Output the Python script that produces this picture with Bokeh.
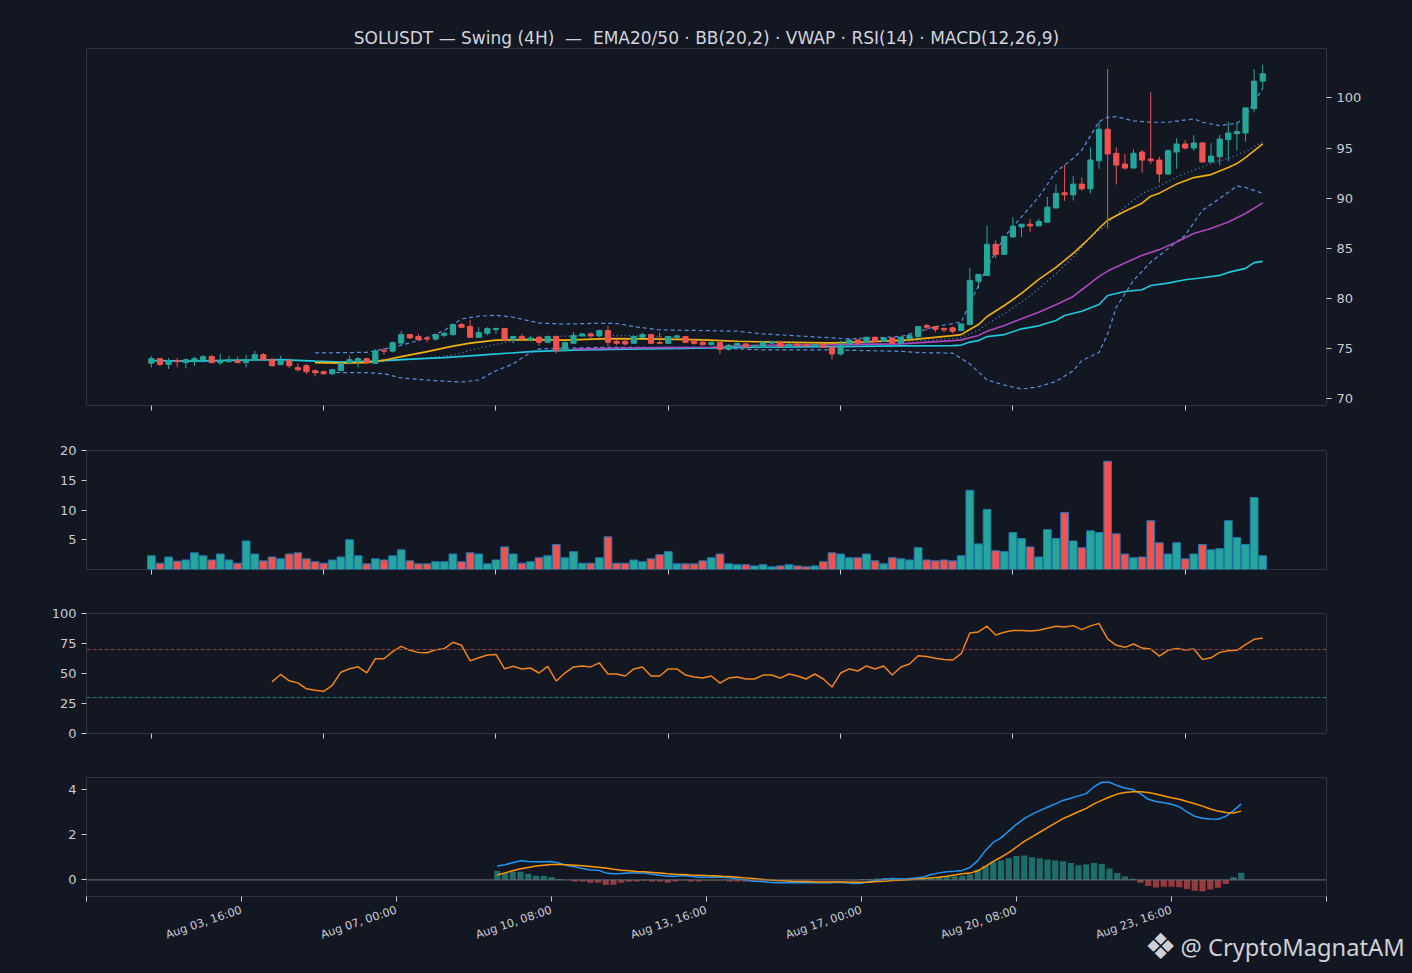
from bokeh.plotting import figure
from bokeh.models import Range1d, FixedTicker, Span, Title, ColumnDataSource
from bokeh.layouts import column
from bokeh.embed import file_html
from bokeh.resources import INLINE

# ---------------- data ----------------
idx = list(range(130))

opens = [73.55,74.0,73.43,73.8,73.6,73.7,73.9,74.2,73.6,73.7,
73.8,73.6,73.9,74.4,73.9,73.4,73.8,73.1,73.3,72.8,
72.7,72.5,72.8,73.6,73.7,74.0,73.53,74.83,74.75,75.55,
76.4,76.2,76.05,75.95,76.33,76.4,77.4,77.2,76.13,76.53,
76.9,77.0,75.87,76.2,75.9,76.13,75.63,76.2,74.8,75.53,
76.27,76.47,76.27,76.8,75.73,75.73,75.53,76.13,76.4,75.6,
75.53,76.13,76.2,75.73,75.63,75.4,75.6,74.93,75.33,75.47,
75.15,75.13,75.55,75.63,75.2,75.45,75.35,75.25,75.4,75.13,
74.47,75.47,75.87,75.6,76.13,75.73,76.07,75.53,76.0,76.2,
77.3,77.2,77.0,77.07,76.8,77.4,81.73,82.3,85.4,84.4,
86.13,87.13,87.4,87.23,87.6,89.03,90.53,90.33,91.4,90.93,
93.73,96.87,94.47,93.4,93.0,94.6,93.9,93.8,92.4,94.6,
95.4,95.0,95.5,93.6,94.13,95.83,96.43,96.5,98.93,101.67]

highs = [74.27,74.0,74.07,74.07,74.0,74.2,74.37,74.4,74.47,74.27,
74.2,74.37,74.77,74.57,74.1,74.3,74.0,73.53,73.47,72.93,
72.8,72.93,73.53,74.3,74.17,74.1,74.93,75.1,75.7,76.77,
76.47,76.47,76.13,76.47,76.7,77.5,77.57,77.87,77.13,77.13,
77.13,77.07,76.3,76.47,76.3,76.3,76.3,76.3,75.7,76.67,
76.57,76.6,76.87,77.27,76.0,75.93,76.27,76.6,76.47,76.6,
76.2,76.4,76.27,76.0,75.93,75.7,75.67,75.47,75.6,75.55,
75.4,75.7,75.75,75.7,75.5,75.55,75.45,75.5,75.5,75.3,
75.8,75.9,75.95,76.2,76.2,76.15,76.1,76.2,76.4,77.27,
77.47,77.2,77.13,77.2,77.53,83.07,82.4,87.27,85.8,86.2,
88.13,87.4,87.93,87.93,90.13,91.33,93.33,92.2,92.07,95.07,
97.63,102.87,95.07,94.4,94.87,94.8,100.57,94.13,94.87,96.0,
95.8,96.27,95.6,95.47,96.3,97.6,97.6,99.0,102.87,103.3]

lows = [73.13,73.27,72.97,73.13,73.03,73.27,73.6,73.6,73.37,73.6,
73.6,73.13,73.8,73.8,73.23,73.4,73.07,72.73,72.47,72.23,
72.37,72.37,72.8,73.47,73.13,73.5,73.47,74.4,74.63,75.33,
75.97,75.8,75.63,75.8,76.13,76.27,77.07,76.13,76.07,76.33,
76.47,75.87,75.53,75.87,75.73,75.3,75.6,74.53,74.7,75.47,
76.2,76.07,76.13,75.27,75.33,75.3,75.47,76.07,75.47,75.47,
75.47,76.07,75.53,75.4,75.3,75.3,74.47,74.8,75.25,75.05,
75.05,75.07,75.45,75.1,75.15,75.2,75.15,75.2,75.05,73.93,
74.3,75.4,75.45,75.55,75.65,75.7,75.45,75.5,75.95,75.97,
76.8,76.63,76.63,76.53,76.8,77.4,81.0,82.3,84.0,84.4,
86.13,86.13,86.63,87.23,87.57,88.93,89.73,89.77,90.73,90.47,
92.93,86.97,91.37,92.87,93.0,92.53,93.4,91.53,92.3,92.93,
94.87,94.73,93.6,93.6,93.27,93.67,94.73,95.63,98.57,100.87]

closes = [74.0,73.43,73.8,73.7,73.9,74.0,74.2,73.6,73.8,73.9,
73.6,73.9,74.4,73.9,73.3,73.8,73.3,72.9,72.7,72.6,
72.5,72.9,73.53,73.9,74.0,73.6,74.77,74.75,75.6,76.4,
76.07,75.9,75.95,76.4,76.53,77.4,77.13,76.13,76.6,77.0,
77.0,75.87,76.2,75.97,76.05,75.63,76.2,74.8,75.6,76.33,
76.47,76.27,76.8,75.63,75.53,75.47,76.2,76.4,75.53,75.53,
76.2,76.27,75.63,75.53,75.4,75.6,74.93,75.33,75.5,75.13,
75.3,75.63,75.65,75.2,75.4,75.3,75.25,75.4,75.13,74.47,
75.3,75.87,75.53,76.13,75.73,76.07,75.53,76.13,76.33,77.2,
77.13,76.93,76.87,76.73,77.47,81.8,82.4,85.4,84.4,86.2,
87.2,87.4,87.23,87.67,89.1,90.47,90.33,91.4,90.93,93.8,
96.87,94.4,93.3,93.0,94.47,93.8,93.73,92.4,94.73,95.4,
95.0,95.5,93.6,94.2,95.9,96.5,96.63,99.0,101.67,102.4]

volumes = [2.3,1.06,2.1,1.4,1.6,2.8,2.3,1.6,2.6,1.6,
1.06,4.8,2.6,1.45,2.1,1.8,2.6,2.8,1.8,1.3,
1.06,1.6,2.1,5.0,2.3,0.95,1.8,1.6,2.3,3.3,
1.45,0.95,0.95,1.3,1.3,2.6,1.3,2.8,2.6,0.95,
1.6,3.8,2.6,1.06,1.3,1.97,2.3,4.2,1.97,3.0,
1.06,1.06,1.97,5.5,1.06,1.06,1.6,1.3,1.8,2.5,
3.0,0.95,0.95,0.95,1.45,1.97,2.6,0.95,0.8,0.8,
0.6,0.8,0.45,0.6,0.8,0.6,0.45,0.6,1.3,2.8,
2.6,1.97,1.97,2.6,1.45,0.95,1.97,1.8,1.6,3.66,
1.6,1.45,1.6,1.45,2.3,13.3,4.3,10.1,3.15,3.0,
6.2,5.2,3.8,2.1,6.7,5.2,9.6,4.8,3.66,6.5,
6.2,18.2,6.0,2.6,1.97,2.1,8.2,4.5,2.6,4.5,
1.8,2.6,4.2,3.3,3.5,8.2,5.35,4.2,12.1,2.3]

vwap_x = [0,5,10,15,19,22,26,29,34,39,44,49,55,60,65,71,79,87,93,94,
          95,96,97,99,101,103,105,106,108,110,111,113,115,116,118,120,122,124,125,127,128,129]
vwap_y = [73.8,73.75,73.85,73.9,73.75,73.65,73.75,73.9,74.1,74.4,74.7,74.85,74.95,75.0,75.07,75.13,75.2,75.27,75.3,75.35,
          75.65,75.8,76.2,76.4,76.97,77.27,77.8,78.3,78.73,79.4,80.3,80.7,80.87,81.3,81.53,81.87,82.07,82.3,82.6,83.0,83.57,83.7]

ema20_x = [19,22,25,27,29,32,35,37,40,44,48,53,58,64,68,72,76,79,83,88,
           93,94,95,96,97,99,101,103,105,107,108,109,110,111,113,115,116,117,119,121,123,125,126,127,129]
ema20_y = [73.6,73.55,73.6,73.85,74.2,74.7,75.25,75.55,75.85,75.9,75.85,76.0,75.97,75.87,75.73,75.65,75.6,75.57,75.67,75.87,
           76.3,76.4,76.9,77.4,78.2,79.3,80.5,81.9,83.1,84.5,85.3,86.1,87.0,87.8,88.7,89.5,90.2,90.5,91.4,92.05,92.35,93.05,93.45,94.05,95.4]

ema50_x = [49,55,60,65,68,71,79,87,93,94,96,97,99,101,103,105,107,108,109,110,
           111,113,115,117,119,121,123,125,127,129]
ema50_y = [74.95,75.05,75.1,75.13,75.27,75.33,75.4,75.47,75.8,75.87,76.3,76.73,77.3,77.97,78.63,79.37,80.2,80.87,81.53,82.2,
           82.73,83.53,84.3,84.87,85.63,86.47,86.97,87.63,88.47,89.53]

bbu_x = [19,25,26,28,31,34,36,38,40,42,45,48,52,54,56,59,64,68,71,75,
         79,81,87,91,93,94,95,97,99,101,103,105,107,108,110,111,112,114,116,118,121,122,124,126,127,129]
bbu_y = [74.57,74.63,74.8,75.13,75.8,76.8,77.97,78.23,78.33,78.13,77.55,77.45,77.53,77.5,77.2,76.87,76.8,76.73,76.47,76.27,
         76.07,75.97,76.2,77.2,77.5,77.65,79.47,83.13,86.13,88.13,90.13,92.63,93.97,94.8,97.63,98.07,98.13,97.7,97.57,97.57,
         97.9,97.57,97.23,97.47,98.13,100.97]

bbm_x = [19,27,31,35,38,42,46,50,52,58,64,68,72,75,79,83,87,91,93,94,
         96,97,99,101,103,105,107,109,111,113,115,117,119,121,123,125,127,129]
bbm_y = [73.57,73.75,74.0,74.35,75.05,75.8,76.2,76.27,76.33,76.27,75.8,75.73,75.73,75.67,75.53,75.67,75.73,75.87,76.03,76.13,
         76.8,77.47,78.47,79.63,80.97,82.47,84.13,86.13,87.47,89.13,90.47,91.2,92.13,92.8,93.47,93.97,94.63,95.63]

bbl_x = [19,25,27,29,33,36,38,40,42,44,45,52,64,68,71,79,87,89,93,95,
         97,99,101,103,105,107,108,110,111,112,114,116,118,120,122,124,126,127,129]
bbl_y = [72.63,72.6,72.5,72.07,71.8,71.67,71.87,72.8,73.47,74.63,74.97,75.13,75.13,74.97,74.87,74.87,74.73,74.6,74.55,73.47,
         71.87,71.37,70.97,71.2,71.73,72.8,73.8,74.63,76.47,79.13,81.8,83.63,84.97,86.3,88.8,89.97,91.2,91.07,90.47]

rsi_idx = list(range(14, 130))
rsi_vals = [43.0,49.2,43.9,42.2,37.2,36.0,35.2,40.2,51.1,53.9,
55.6,50.6,62.3,62.3,68.2,72.6,69.3,67.6,67.3,69.8,
70.7,76.0,73.5,60.6,63.1,65.4,65.9,53.9,56.0,53.8,
54.6,50.4,56.0,43.7,50.4,55.5,56.3,55.5,58.8,49.6,
49.6,47.9,53.8,55.5,47.9,47.9,53.8,53.8,48.7,47.0,
46.2,47.9,42.0,46.2,47.0,45.4,45.4,48.7,48.7,46.2,
49.6,47.9,45.4,49.6,45.4,38.7,50.4,53.8,52.1,56.3,
53.8,56.3,48.7,55.4,57.9,64.8,64.2,62.8,61.7,61.2,
66.5,83.8,84.6,89.4,82.1,84.4,85.8,85.8,85.5,86.0,
87.7,89.4,88.8,89.9,86.6,89.7,91.6,78.8,73.5,71.8,
74.6,71.2,70.4,64.5,69.3,70.9,69.6,70.4,61.7,63.1,
67.6,69.0,69.3,74.0,78.5,79.6]

macd_idx = list(range(33, 130))
macd_vals = [0.61,0.67,0.76,0.84,0.81,0.8,0.8,0.81,0.73,0.64,
0.58,0.5,0.44,0.43,0.31,0.27,0.28,0.3,0.31,0.3,
0.25,0.21,0.16,0.16,0.19,0.16,0.12,0.12,0.13,0.12,
0.09,0.04,0.01,-0.06,-0.07,-0.1,-0.12,-0.13,-0.13,-0.13,
-0.13,-0.12,-0.12,-0.12,-0.1,-0.12,-0.16,-0.15,-0.07,-0.01,
0.03,0.06,0.04,0.05,0.09,0.13,0.24,0.31,0.36,0.38,
0.42,0.55,0.85,1.3,1.65,1.85,2.15,2.45,2.7,2.9,
3.05,3.2,3.35,3.5,3.6,3.7,3.8,4.1,4.3,4.3,
4.15,4.05,3.98,3.8,3.55,3.45,3.4,3.33,3.22,3.0,
2.8,2.72,2.68,2.67,2.8,3.05,3.35]
signal_vals = [0.22,0.31,0.4,0.49,0.55,0.61,0.65,0.68,0.68,0.67,
0.65,0.62,0.59,0.56,0.52,0.47,0.43,0.4,0.37,0.36,
0.33,0.3,0.27,0.25,0.24,0.22,0.21,0.19,0.18,0.16,
0.15,0.12,0.09,0.06,0.03,0.0,-0.03,-0.04,-0.06,-0.07,
-0.07,-0.09,-0.09,-0.09,-0.09,-0.09,-0.1,-0.1,-0.1,-0.07,
-0.06,-0.03,-0.01,0.01,0.03,0.06,0.09,0.12,0.16,0.22,
0.27,0.3,0.4,0.6,0.82,1.0,1.2,1.45,1.7,1.9,
2.1,2.3,2.5,2.7,2.85,3.0,3.15,3.35,3.5,3.65,
3.78,3.85,3.88,3.88,3.85,3.78,3.7,3.62,3.55,3.45,
3.35,3.25,3.12,3.03,2.97,2.95,3.03]
hist_vals = [0.4,0.31,0.36,0.36,0.27,0.18,0.18,0.13,0.04,0.0,
-0.07,-0.07,-0.13,-0.12,-0.21,-0.21,-0.12,-0.07,-0.07,-0.04,
-0.07,-0.07,-0.12,-0.07,-0.03,-0.07,-0.07,-0.03,-0.03,-0.03,
-0.07,-0.07,-0.07,-0.06,-0.04,-0.03,-0.02,-0.02,-0.02,-0.02,
-0.02,-0.01,-0.01,-0.01,-0.01,-0.01,-0.04,0.04,0.04,0.06,
0.08,0.07,0.07,0.06,0.06,0.07,0.12,0.14,0.16,0.16,
0.18,0.25,0.45,0.62,0.8,0.85,0.95,1.05,1.07,1.0,
0.95,0.9,0.85,0.82,0.75,0.65,0.68,0.75,0.7,0.5,
0.3,0.15,0.05,-0.12,-0.27,-0.33,-0.3,-0.3,-0.32,-0.4,
-0.48,-0.5,-0.42,-0.35,-0.18,0.12,0.32]

date_ticks = [-20, 0, 20, 40, 60, 80, 100, 120, 140]
date_labels = ["", "Aug 03, 16:00", "Aug 07, 00:00", "Aug 10, 08:00", "Aug 13, 16:00",
               "Aug 17, 00:00", "Aug 20, 08:00", "Aug 23, 16:00", ""]

TITLE = "SOLUSDT \u2014 Swing (4H) \u00a0\u2014\u00a0 EMA20/50 \u00b7 BB(20,2) \u00b7 VWAP \u00b7 RSI(14) \u00b7 MACD(12,26,9)"
WATERMARK = "@ CryptoMagnatAM"
LOGO = "\u2756"

# ---------------- styling ----------------
BG = "#131722"
BORDER = "#30343f"
TXT = "#c9ccd3"
UP = "#26a69a"
DN = "#ef5350"
W = 1412
FONT = "DejaVu Sans"

colors = [UP if c >= o else DN for o, c in zip(opens, closes)]
body_top = [max(o, c) for o, c in zip(opens, closes)]
body_bot = [min(o, c) for o, c in zip(opens, closes)]
src = ColumnDataSource(dict(x=idx, o=opens, h=highs, l=lows, c=closes, v=volumes,
                            col=colors, bt=body_top, bb=body_bot))

top_x = Range1d(-7.53, 136.4)
idx_ticks = [0, 20, 40, 60, 80, 100, 120]


def make_fig(h, xr, yr, top, bottom, yside):
    p = figure(width=W, height=h, x_range=xr, y_range=yr, output_backend="svg",
               toolbar_location=None, tools="", y_axis_location=yside,
               min_border_left=86, min_border_right=86,
               min_border_top=top, min_border_bottom=bottom,
               background_fill_color=BG, border_fill_color=BG,
               outline_line_color=BORDER, outline_line_width=1)
    p.grid.visible = False
    for ax in p.axis:
        ax.axis_line_color = None
        ax.major_tick_line_color = TXT
        ax.major_tick_in = 0
        ax.major_tick_out = 5
        ax.minor_tick_line_color = None
        ax.major_label_text_color = TXT
        ax.major_label_text_font = FONT
        ax.major_label_text_font_size = "13px"
    return p


def hide_x_labels(p):
    p.xaxis.ticker = FixedTicker(ticks=idx_ticks)
    p.xaxis.major_label_overrides = {t: "" for t in idx_ticks}
    p.xaxis.major_label_text_font_size = "1px"


# ---- price panel ----
p1 = make_fig(428, top_x, Range1d(69.33, 104.92), 48, 23, "right")
hide_x_labels(p1)
p1.yaxis.ticker = FixedTicker(ticks=[70, 75, 80, 85, 90, 95, 100])
p1.title.text = TITLE
p1.title.align = "center"
p1.title.text_color = "#d1d4dc"
p1.title.text_font = FONT
p1.title.text_font_size = "17px"
p1.title.text_font_style = "normal"
p1.title.standoff = 1

BB_COL = "#5a8fdc"
p1.line(bbu_x, bbu_y, line_color=BB_COL, line_width=1.2, line_dash="4 3")
p1.line(bbl_x, bbl_y, line_color=BB_COL, line_width=1.2, line_dash="4 3")
p1.line(bbm_x, bbm_y, line_color=BB_COL, line_width=1.3, line_dash="1 3", line_alpha=0.95)
p1.line(vwap_x, vwap_y, line_color="#22c7e0", line_width=1.6)
p1.line(ema50_x, ema50_y, line_color="#ab47bc", line_width=1.6)
p1.line(ema20_x, ema20_y, line_color="#f0b00f", line_width=1.6)
p1.segment(x0="x", y0="l", x1="x", y1="h", color="col", line_width=1, source=src)
p1.vbar(x="x", width=0.6, top="bt", bottom="bb", fill_color="col", line_color="col",
        line_width=1, source=src)

# ---- volume panel ----
p2 = make_fig(163, top_x, Range1d(0, 20), 22, 22, "left")
hide_x_labels(p2)
p2.yaxis.ticker = FixedTicker(ticks=[5, 10, 15, 20])
p2.vbar(x="x", width=0.9, top="v", bottom=0, fill_color="col", line_color="#1f77b4",
        line_width=1, source=src)

# ---- RSI panel ----
p3 = make_fig(164, top_x, Range1d(0, 100), 22, 22, "left")
hide_x_labels(p3)
p3.yaxis.ticker = FixedTicker(ticks=[0, 25, 50, 75, 100])
p3.add_layout(Span(location=70, dimension="width", line_color="#8a4246",
                   line_width=1, line_dash="4 2"))
p3.add_layout(Span(location=30, dimension="width", line_color="#1f7f79",
                   line_width=1, line_dash="4 2"))
p3.line(rsi_idx, rsi_vals, line_color="#f0841f", line_width=1.5)

# ---- MACD panel ----
p4 = make_fig(217, Range1d(-20, 140), Range1d(-0.73, 4.51), 22, 76, "left")
p4.yaxis.ticker = FixedTicker(ticks=[0, 2, 4])
p4.xaxis.ticker = FixedTicker(ticks=date_ticks)
p4.xaxis.major_label_overrides = {t: l for t, l in zip(date_ticks, date_labels)}
p4.xaxis.major_label_orientation = 0.33
p4.xaxis.major_label_text_font_size = "11.3px"
p4.xaxis.major_label_standoff = 8
p4.add_layout(Span(location=0, dimension="width", line_color="#6b6e78", line_width=1))
hist_cols = [UP if v >= 0 else DN for v in hist_vals]
p4.vbar(x=macd_idx, width=0.8, top=hist_vals, bottom=0, fill_color=hist_cols,
        fill_alpha=0.6, line_color=None)
p4.line(macd_idx, macd_vals, line_color="#2196f3", line_width=1.5)
p4.line(macd_idx, signal_vals, line_color="#ff9800", line_width=1.5)

wm = Title(text=WATERMARK, align="left", offset=1094, standoff=-40, vertical_align="top",
           text_font="Noto Sans", text_font_size="23.7px", text_font_style="normal",
           text_color="#cfd1d6")
p4.add_layout(wm, "below")
logo = Title(text=LOGO, align="left", offset=1058, standoff=-50, vertical_align="top",
             text_font=FONT, text_font_size="36px", text_font_style="normal",
             text_color="#cfd1d6")
p4.add_layout(logo, "below")

layout = column(p1, p2, p3, p4, spacing=0)
html = file_html(layout, INLINE, title="SOLUSDT")
html = html.replace("<head>", "<head><style>html,body{background:#131722;margin:0;padding:0;}</style>", 1)
open("out.html", "w").write(html)
